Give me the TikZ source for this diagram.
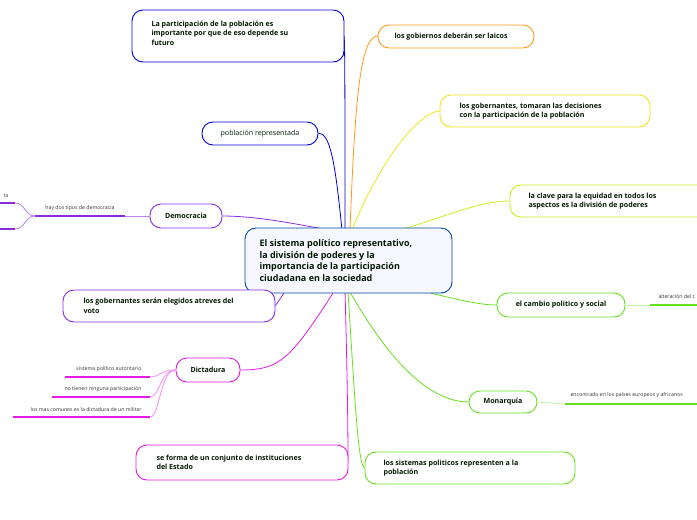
\documentclass[tikz,border=0pt]{standalone}
\usepackage{fontspec}
\setmainfont{Open Sans}
\begin{document}
\begin{tikzpicture}[x=1pt,y=-1pt,
  box/.style={draw=#1,line width=0.9pt,rounded corners=11pt,fill=white,inner sep=0pt},
  tb/.style={font=\fontsize{7.1}{9.4}\selectfont\bfseries,text=black!75!green!40!black,align=left,anchor=west},
  tn/.style={font=\fontsize{7.1}{9.4}\selectfont,text=black!75!green!40!black,anchor=center},
  lf/.style={font=\fontsize{5.2}{6.5}\selectfont,text=black!80,anchor=south},
  ul/.style={draw=#1,line width=1.6pt},
  br/.style={draw=#1,line width=0.8pt}]
\useasboundingbox (0,0) rectangle (697,520);
\clip (0,0) rectangle (697,520);
\colorlet{cB}{blue!85!black}
\definecolor{cP}{HTML}{8A2BE2}
\definecolor{cM}{HTML}{E619E6}
\definecolor{cO}{HTML}{FF9A1A}
\definecolor{cY}{HTML}{F0E21A}
\definecolor{cYG}{HTML}{C8F01E}
\definecolor{cG}{HTML}{66E01E}
% branches
\draw[br=cB] (345,230) .. controls (345,120) and (345,36) .. (344,36);
\draw[br=cB] (342,230) .. controls (335,160) and (330,133) .. (318,133);
\draw[br=cP] (340,232) .. controls (300,225) and (260,216) .. (222,216);
\draw[br=cP] (300,270) .. controls (285,290) and (280,300) .. (275,306);
\draw[br=cM] (335,290) .. controls (290,360) and (280,370) .. (240,370);
\draw[br=cM] (345,290) .. controls (348,400) and (348,450) .. (348,462);
\draw[br=cO] (350,230) .. controls (355,100) and (360,36) .. (378,36);
\draw[br=cY] (352,230) .. controls (380,160) and (420,111) .. (440,111);
\draw[br=cYG] (400,230) .. controls (450,215) and (480,201) .. (510,201);
\draw[br=cG] (430,293) .. controls (460,300) and (480,305) .. (497,305);
\draw[br=cG] (350,292) .. controls (400,380) and (440,402) .. (469,402);
\draw[br=cG] (348,292) .. controls (355,400) and (358,468) .. (365,468);
% center
\node[box=cB!60!cyan!70!black,fill=blue!3,minimum width=207pt,minimum height=65pt] (ctr) at (348.5,260.5) {};
\node[tb,font=\fontsize{9}{11.5}\selectfont\bfseries] at (256,260.5) {El sistema político representativo,\\la división de poderes y la\\importancia de la participación\\ciudadana en la sociedad};
% nodes
\node[box=cB,minimum width=212pt,minimum height=52pt] (n1) at (238,36) {};
\node[tb] at (148,33) {La participación de la población es\\importante por que de eso depende su\\futuro};
\node[box=cB,minimum width=116pt,minimum height=23pt] (n2) at (260,133.5) {};
\node[tn] at (260,133.5) {población representada};
\node[box=cP,minimum width=72pt,minimum height=24pt] (dem) at (186,216) {};
\node[tn,font=\fontsize{7.1}{9.4}\selectfont\bfseries] at (186,216) {Democracia};
\node[box=cP,minimum width=212pt,minimum height=32pt] (n3) at (169,306) {};
\node[tb] at (80,306) {los gobernantes serán elegidos atreves del\\voto};
\node[box=cM,minimum width=64pt,minimum height=24pt] (dic) at (208,370) {};
\node[tn,font=\fontsize{7.1}{9.4}\selectfont\bfseries] at (208,370) {Dictadura};
\node[box=cM,minimum width=212pt,minimum height=35pt] (n4) at (242,462.5) {};
\node[tb] at (153,462.5) {se forma de un conjunto de instituciones\\del Estado};
\node[box=cO,minimum width=156pt,minimum height=23pt] (n5) at (456,36.5) {};
\node[tb] at (391,36.5) {los gobiernos deberán ser laicos};
\node[box=cY,minimum width=210pt,minimum height=32pt] (n6) at (545,111) {};
\node[tb] at (456,111) {los gobernantes, tomaran las decisiones\\con la participación de la población};
\node[box=cYG,minimum width=210pt,minimum height=32pt] (n7) at (615,201) {};
\node[tb] at (525,201) {la clave para la equidad en todos los\\aspectos es la división de poderes};
\node[box=cG,minimum width=128pt,minimum height=24pt] (n8) at (561,305) {};
\node[tn,font=\fontsize{7.1}{9.4}\selectfont\bfseries] at (561,305) {el cambio politico y social};
\node[box=cG,minimum width=68pt,minimum height=22pt] (mon) at (503,402) {};
\node[tn,font=\fontsize{7.1}{9.4}\selectfont\bfseries] at (503,402) {Monarquía};
\node[box=cG,minimum width=210pt,minimum height=32pt] (n9) at (470,468) {};
\node[tb] at (380,468) {los sistemas politicos representen a la\\población};
% democracia leaves
\draw[br=cP!60] (dem.west) -- (125,216);
\draw[ul=cP] (35,216) -- (125,216);
\node[lf] at (80,214) {hay dos tipos de democracia};
\draw[br=cP!60] (35,216) .. controls (25,216) and (25,203) .. (15,203);
\draw[br=cP!60] (35,216) .. controls (25,216) and (25,229) .. (15,229);
\draw[ul=cP] (0,203) -- (15,203);
\draw[ul=cP] (0,229) -- (15,229);
\node[lf,anchor=south west] at (0,201) {ta};
% dictadura leaves
\draw[ul=cM] (65,377) -- (150,377);
\node[lf,anchor=south east] at (145,375) {sistema político autoritario};
\draw[ul=cM] (52,397) -- (150,397);
\node[lf,anchor=south east] at (145,395) {no tienen ninguna participación};
\draw[ul=cM] (13,417) -- (150,417);
\node[lf,anchor=south east] at (145,415) {los mas comunes es la dictadura de un militar};
\draw[br=cM!50] (dic.west) .. controls (160,370) and (160,377) .. (150,377);
\draw[br=cM!50] (dic.west) .. controls (160,370) and (160,397) .. (150,397);
\draw[br=cM!50] (dic.west) .. controls (160,370) and (160,417) .. (150,417);
% right leaves
\draw[br=cG!40] (n8.east) -- (650,305);
\draw[ul=cG] (650,305) -- (697,305);
\node[lf,anchor=south west] at (655,302) {alteración del c};
\draw[br=cG!40] (mon.east) -- (565,404);
\draw[ul=cG] (565,404) -- (697,404);
\node[lf,anchor=south west] at (567,401) {encontrado en los países europeos y africanos};
\end{tikzpicture}
\end{document}
